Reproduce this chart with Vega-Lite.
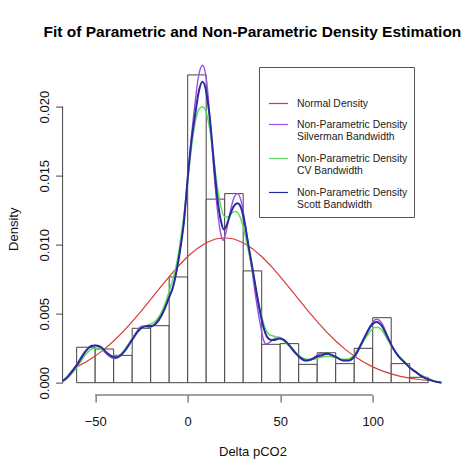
{
  "$schema": "https://vega.github.io/schema/vega-lite/v6.json",
  "autosize": "none",
  "width": 379.7,
  "height": 332.4,
  "padding": {"left": 62.6, "top": 62.6, "right": 31.7, "bottom": 79},
  "background": "white",
  "title": {"text": "Fit of Parametric and Non-Parametric Density Estimation", "font": "Liberation Sans", "fontSize": 15.5, "fontWeight": "bold", "color": "#000", "anchor": "middle", "baseline": "bottom", "offset": 7},
  "config": {
    "view": {"stroke": null},
    "axis": {"labelFont": "Liberation Sans", "titleFont": "Liberation Sans", "labelFontSize": 13, "titleFontSize": 13, "titleFontWeight": "normal", "labelColor": "#111", "titleColor": "#111", "tickColor": "#444", "tickSize": 7, "grid": false, "domain": false}
  },
  "datasets": {
    "hist": [
      {"start": -60, "end": -50, "density": 0.00257},
      {"start": -50, "end": -40, "density": 0.00244},
      {"start": -40, "end": -30, "density": 0.00198},
      {"start": -30, "end": -20, "density": 0.00394},
      {"start": -20, "end": -10, "density": 0.00413},
      {"start": -10, "end": 0, "density": 0.00766},
      {"start": 0, "end": 10, "density": 0.0223},
      {"start": 10, "end": 20, "density": 0.0133},
      {"start": 20, "end": 30, "density": 0.0137},
      {"start": 30, "end": 40, "density": 0.0081},
      {"start": 40, "end": 50, "density": 0.00278},
      {"start": 50, "end": 60, "density": 0.00283},
      {"start": 60, "end": 70, "density": 0.00133},
      {"start": 70, "end": 80, "density": 0.00217},
      {"start": 80, "end": 90, "density": 0.00138},
      {"start": 90, "end": 100, "density": 0.00249},
      {"start": 100, "end": 110, "density": 0.00471},
      {"start": 110, "end": 120, "density": 0.00138},
      {"start": 120, "end": 130, "density": 0.00039}
    ],
    "normal": [
      {"x": -60, "y": 0.001146}, {"x": -55, "y": 0.001497}, {"x": -50, "y": 0.001925}, {"x": -45, "y": 0.002431},
      {"x": -40, "y": 0.003018}, {"x": -35, "y": 0.003686}, {"x": -30, "y": 0.004418}, {"x": -25, "y": 0.005208},
      {"x": -20, "y": 0.006034}, {"x": -15, "y": 0.00687}, {"x": -10, "y": 0.00769}, {"x": -5, "y": 0.008457},
      {"x": 0, "y": 0.009142}, {"x": 5, "y": 0.009713}, {"x": 10, "y": 0.010143}, {"x": 15, "y": 0.01041},
      {"x": 20, "y": 0.0105}, {"x": 25, "y": 0.01041}, {"x": 30, "y": 0.010143}, {"x": 35, "y": 0.009713},
      {"x": 40, "y": 0.009142}, {"x": 45, "y": 0.008457}, {"x": 50, "y": 0.00769}, {"x": 55, "y": 0.00687},
      {"x": 60, "y": 0.006034}, {"x": 65, "y": 0.005208}, {"x": 70, "y": 0.004418}, {"x": 75, "y": 0.003686},
      {"x": 80, "y": 0.003018}, {"x": 85, "y": 0.002431}, {"x": 90, "y": 0.001925}, {"x": 95, "y": 0.001497},
      {"x": 100, "y": 0.001146}, {"x": 105, "y": 0.00086}, {"x": 110, "y": 0.000635}, {"x": 115, "y": 0.000461},
      {"x": 120, "y": 0.000329}, {"x": 125, "y": 0.000231}, {"x": 130, "y": 0.000159}
    ],
    "silverman": [
      {"x": -69, "y": 0}, {"x": -66, "y": 0.0003}, {"x": -63, "y": 0.0008}, {"x": -60, "y": 0.0013}, {"x": -57, "y": 0.002},
      {"x": -54, "y": 0.0025}, {"x": -52, "y": 0.0027}, {"x": -50, "y": 0.0027}, {"x": -47, "y": 0.0025}, {"x": -44, "y": 0.0021},
      {"x": -41, "y": 0.0018}, {"x": -39.5, "y": 0.00175}, {"x": -37, "y": 0.0019}, {"x": -34, "y": 0.0024}, {"x": -30, "y": 0.0032},
      {"x": -27, "y": 0.0038}, {"x": -25, "y": 0.0041}, {"x": -23, "y": 0.0041}, {"x": -21, "y": 0.004}, {"x": -19, "y": 0.0041},
      {"x": -17, "y": 0.0044}, {"x": -14, "y": 0.005}, {"x": -12, "y": 0.0056}, {"x": -10, "y": 0.0062}, {"x": -8, "y": 0.0069},
      {"x": -6, "y": 0.0081}, {"x": -4, "y": 0.0097}, {"x": -2, "y": 0.0117}, {"x": 0, "y": 0.0148}, {"x": 2, "y": 0.0178},
      {"x": 4, "y": 0.0203}, {"x": 6, "y": 0.0223}, {"x": 8, "y": 0.023}, {"x": 10, "y": 0.0221}, {"x": 12, "y": 0.0192},
      {"x": 14, "y": 0.0156}, {"x": 16, "y": 0.0126}, {"x": 18, "y": 0.0107}, {"x": 19, "y": 0.0103}, {"x": 20.5, "y": 0.0108},
      {"x": 23, "y": 0.0124}, {"x": 25, "y": 0.0134}, {"x": 27, "y": 0.0137}, {"x": 29, "y": 0.0131}, {"x": 31, "y": 0.0116},
      {"x": 33, "y": 0.0098}, {"x": 35, "y": 0.0079}, {"x": 37, "y": 0.006}, {"x": 39, "y": 0.0044}, {"x": 41, "y": 0.0031},
      {"x": 42.5, "y": 0.0028}, {"x": 44, "y": 0.0029}, {"x": 46, "y": 0.0031}, {"x": 48.5, "y": 0.0033}, {"x": 51, "y": 0.0032},
      {"x": 54, "y": 0.0028}, {"x": 57, "y": 0.0023}, {"x": 60, "y": 0.0019}, {"x": 63, "y": 0.0016}, {"x": 66, "y": 0.0016},
      {"x": 69, "y": 0.0019}, {"x": 72, "y": 0.0021}, {"x": 75, "y": 0.0021}, {"x": 78, "y": 0.002}, {"x": 81, "y": 0.0018},
      {"x": 84, "y": 0.0016}, {"x": 87, "y": 0.0016}, {"x": 90, "y": 0.0018}, {"x": 93, "y": 0.0025}, {"x": 96, "y": 0.0034},
      {"x": 99, "y": 0.0042}, {"x": 102, "y": 0.0046}, {"x": 105, "y": 0.0043}, {"x": 108, "y": 0.0034}, {"x": 111, "y": 0.0025},
      {"x": 114, "y": 0.0019}, {"x": 117, "y": 0.0015}, {"x": 120, "y": 0.0011}, {"x": 123, "y": 0.0008}, {"x": 126, "y": 0.0005},
      {"x": 129, "y": 0.0003}, {"x": 132, "y": 0.00015}, {"x": 135, "y": 0.00005}, {"x": 137, "y": 0}
    ],
    "cv": [
      {"x": -69, "y": 0}, {"x": -66, "y": 0.0002}, {"x": -63, "y": 0.0006}, {"x": -60, "y": 0.0011}, {"x": -57, "y": 0.0017},
      {"x": -54, "y": 0.0022}, {"x": -51, "y": 0.0025}, {"x": -48, "y": 0.0025}, {"x": -45, "y": 0.0023}, {"x": -42, "y": 0.002},
      {"x": -39, "y": 0.0019}, {"x": -36, "y": 0.0021}, {"x": -33, "y": 0.0026}, {"x": -30, "y": 0.0032}, {"x": -27, "y": 0.0037},
      {"x": -24, "y": 0.004}, {"x": -21, "y": 0.0042}, {"x": -18, "y": 0.0044}, {"x": -15, "y": 0.0049}, {"x": -12, "y": 0.0058},
      {"x": -10, "y": 0.0066}, {"x": -8, "y": 0.0075}, {"x": -6, "y": 0.0086}, {"x": -4, "y": 0.0102}, {"x": -2, "y": 0.0122},
      {"x": 0, "y": 0.0146}, {"x": 2, "y": 0.017}, {"x": 4, "y": 0.0188}, {"x": 6, "y": 0.0198}, {"x": 8, "y": 0.02},
      {"x": 10, "y": 0.0196}, {"x": 12, "y": 0.0183}, {"x": 14, "y": 0.0163}, {"x": 16, "y": 0.0142}, {"x": 18, "y": 0.0127},
      {"x": 20, "y": 0.012}, {"x": 22, "y": 0.012}, {"x": 24, "y": 0.0123}, {"x": 26, "y": 0.0124}, {"x": 28, "y": 0.0121},
      {"x": 30, "y": 0.0113}, {"x": 32, "y": 0.0101}, {"x": 34, "y": 0.0088}, {"x": 36, "y": 0.0074}, {"x": 38, "y": 0.006},
      {"x": 40, "y": 0.0048}, {"x": 42, "y": 0.0039}, {"x": 44, "y": 0.0035}, {"x": 46, "y": 0.0034}, {"x": 48, "y": 0.0033},
      {"x": 50, "y": 0.0032}, {"x": 53, "y": 0.0029}, {"x": 56, "y": 0.0025}, {"x": 59, "y": 0.0021}, {"x": 62, "y": 0.0018},
      {"x": 65, "y": 0.0017}, {"x": 68, "y": 0.0017}, {"x": 71, "y": 0.0018}, {"x": 74, "y": 0.0019}, {"x": 77, "y": 0.0019},
      {"x": 80, "y": 0.0018}, {"x": 83, "y": 0.0017}, {"x": 86, "y": 0.0017}, {"x": 89, "y": 0.0019}, {"x": 92, "y": 0.0024},
      {"x": 95, "y": 0.003}, {"x": 98, "y": 0.0036}, {"x": 101, "y": 0.004}, {"x": 103, "y": 0.004}, {"x": 106, "y": 0.0036},
      {"x": 109, "y": 0.0029}, {"x": 112, "y": 0.0023}, {"x": 115, "y": 0.0018}, {"x": 118, "y": 0.0014}, {"x": 121, "y": 0.001},
      {"x": 124, "y": 0.0007}, {"x": 127, "y": 0.0005}, {"x": 130, "y": 0.0003}, {"x": 133, "y": 0.00015}, {"x": 136, "y": 0.00005},
      {"x": 138, "y": 0}
    ],
    "scott": [
      {"x": -69, "y": 0}, {"x": -65, "y": 0.0004}, {"x": -62, "y": 0.0009}, {"x": -60, "y": 0.00125}, {"x": -57, "y": 0.0019},
      {"x": -54, "y": 0.00245}, {"x": -52, "y": 0.00265}, {"x": -50, "y": 0.0027}, {"x": -47, "y": 0.0026}, {"x": -44, "y": 0.0022},
      {"x": -41, "y": 0.0019}, {"x": -39, "y": 0.00182}, {"x": -37, "y": 0.0019}, {"x": -34, "y": 0.0023}, {"x": -30, "y": 0.0031},
      {"x": -27, "y": 0.0037}, {"x": -24.5, "y": 0.004}, {"x": -22, "y": 0.0041}, {"x": -19.5, "y": 0.0041}, {"x": -17, "y": 0.0043},
      {"x": -14, "y": 0.0049}, {"x": -12, "y": 0.0055}, {"x": -10, "y": 0.0062}, {"x": -8, "y": 0.0069}, {"x": -6, "y": 0.0081},
      {"x": -4, "y": 0.0097}, {"x": -2, "y": 0.0117}, {"x": 0, "y": 0.0148}, {"x": 2, "y": 0.0175}, {"x": 4, "y": 0.0194},
      {"x": 6, "y": 0.0211}, {"x": 8, "y": 0.0218}, {"x": 10, "y": 0.0211}, {"x": 12, "y": 0.0191}, {"x": 14, "y": 0.0162},
      {"x": 16, "y": 0.0134}, {"x": 18, "y": 0.0117}, {"x": 19.5, "y": 0.0111}, {"x": 21, "y": 0.0114}, {"x": 23, "y": 0.0122},
      {"x": 25, "y": 0.0128}, {"x": 27, "y": 0.013}, {"x": 29, "y": 0.0126}, {"x": 31, "y": 0.0114}, {"x": 33, "y": 0.0098},
      {"x": 35, "y": 0.0083}, {"x": 37, "y": 0.0067}, {"x": 39, "y": 0.0052}, {"x": 41, "y": 0.004}, {"x": 43, "y": 0.0033},
      {"x": 45, "y": 0.0031}, {"x": 47, "y": 0.0031}, {"x": 49.5, "y": 0.0032}, {"x": 52, "y": 0.0031}, {"x": 55, "y": 0.0027},
      {"x": 58, "y": 0.0022}, {"x": 61, "y": 0.0018}, {"x": 64, "y": 0.0016}, {"x": 67, "y": 0.0017}, {"x": 70, "y": 0.0019},
      {"x": 73, "y": 0.002}, {"x": 75, "y": 0.0021}, {"x": 78, "y": 0.002}, {"x": 81, "y": 0.0018}, {"x": 84, "y": 0.0016},
      {"x": 87, "y": 0.0016}, {"x": 90, "y": 0.0019}, {"x": 93, "y": 0.0026}, {"x": 96, "y": 0.0034}, {"x": 99, "y": 0.0041},
      {"x": 102, "y": 0.0044}, {"x": 105, "y": 0.0041}, {"x": 108, "y": 0.0033}, {"x": 111, "y": 0.0025}, {"x": 114, "y": 0.0019},
      {"x": 117, "y": 0.0015}, {"x": 120, "y": 0.0011}, {"x": 123, "y": 0.0008}, {"x": 126, "y": 0.0005}, {"x": 129, "y": 0.0003},
      {"x": 132, "y": 0.00015}, {"x": 135, "y": 0.00005}, {"x": 137, "y": 0}
    ]
  },
  "layer": [
    {
      "data": {"name": "hist"},
      "mark": {"type": "bar", "fill": "white", "stroke": "#444", "strokeWidth": 1},
      "encoding": {
        "x": {"field": "start", "type": "quantitative", "scale": {"domain": [-67.6, 137.6], "nice": false, "zero": false}, "axis": {"values": [-50, 0, 50, 100], "title": "Delta pCO2", "labelPadding": 13, "titlePadding": 17}},
        "x2": {"field": "end"},
        "y": {"field": "density", "type": "quantitative", "scale": {"domain": [-0.000892, 0.023192], "nice": false, "zero": false}, "axis": {"values": [0, 0.005, 0.01, 0.015, 0.02], "format": ".3f", "title": "Density", "labelAngle": -90, "labelAlign": "center", "labelBaseline": "bottom", "labelPadding": 4, "titlePadding": 18}},
        "y2": {"datum": 0}
      }
    },
    {
      "data": {"values": [{}]},
      "mark": {"type": "rule", "color": "#444", "strokeWidth": 1},
      "encoding": {"x": {"datum": -50, "type": "quantitative"}, "x2": {"datum": 100}, "y": {"datum": -0.000892, "type": "quantitative"}}
    },
    {
      "data": {"values": [{}]},
      "mark": {"type": "rule", "color": "#444", "strokeWidth": 1},
      "encoding": {"x": {"datum": -67.6, "type": "quantitative"}, "y": {"datum": 0, "type": "quantitative"}, "y2": {"datum": 0.02}}
    },
    {
      "data": {"name": "normal"},
      "transform": [{"calculate": "'Normal Density'", "as": "series"}],
      "mark": {"type": "line", "strokeWidth": 1.2, "clip": true},
      "encoding": {
        "x": {"field": "x", "type": "quantitative"},
        "y": {"field": "y", "type": "quantitative"},
        "color": {
          "field": "series", "type": "nominal",
          "scale": {"domain": ["Normal Density", "Non-Parametric Density|Silverman Bandwidth", "Non-Parametric Density|CV Bandwidth", "Non-Parametric Density|Scott Bandwidth"], "range": ["#D83A3A", "#9B4FE0", "#5CDC5C", "#2A2A9E"]},
          "legend": {"orient": "none", "legendX": 196.4, "legendY": 4.4, "title": " ", "titleFontSize": 10, "titlePadding": 10, "strokeColor": "#555", "fillColor": "white", "padding": 6, "symbolOffset": 3, "symbolType": "stroke", "symbolSize": 361, "symbolStrokeWidth": 1.2, "labelOffset": 8, "labelFont": "Liberation Sans", "labelFontSize": 10.4, "labelColor": "#222", "labelLimit": 300, "rowPadding": 5, "labelExpr": "split(datum.label, '|')"}
        }
      }
    },
    {
      "data": {"name": "silverman"},
      "transform": [{"calculate": "'Non-Parametric Density|Silverman Bandwidth'", "as": "series"}],
      "mark": {"type": "line", "strokeWidth": 1.4, "clip": true, "interpolate": "monotone"},
      "encoding": {"x": {"field": "x", "type": "quantitative"}, "y": {"field": "y", "type": "quantitative"}, "color": {"field": "series", "type": "nominal"}}
    },
    {
      "data": {"name": "cv"},
      "transform": [{"calculate": "'Non-Parametric Density|CV Bandwidth'", "as": "series"}],
      "mark": {"type": "line", "strokeWidth": 1.5, "clip": true, "interpolate": "monotone"},
      "encoding": {"x": {"field": "x", "type": "quantitative"}, "y": {"field": "y", "type": "quantitative"}, "color": {"field": "series", "type": "nominal"}}
    },
    {
      "data": {"name": "scott"},
      "transform": [{"calculate": "'Non-Parametric Density|Scott Bandwidth'", "as": "series"}],
      "mark": {"type": "line", "strokeWidth": 2, "clip": true, "interpolate": "monotone"},
      "encoding": {"x": {"field": "x", "type": "quantitative"}, "y": {"field": "y", "type": "quantitative"}, "color": {"field": "series", "type": "nominal"}}
    }
  ]
}
